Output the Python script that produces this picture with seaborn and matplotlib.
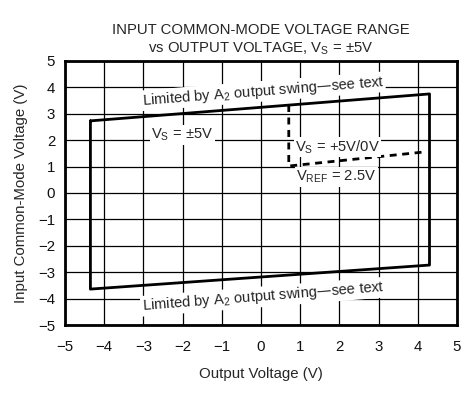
import numpy as np
import matplotlib.pyplot as plt
import pandas as pd
import seaborn as sns

# solid region, V_S = +/-5V
box_x = [-4.35, 4.3, 4.3, -4.35, -4.35]
box_y = [2.73, 3.75, -2.73, -3.64, 2.73]

# dashed region, V_S = +5V/0V
dash_x = [0.71, 0.71, 4.15]
dash_y = [3.33, 1.02, 1.55]

ticks = np.arange(-5, 6, 1)

def main():
    sns.set_theme(style='white')
    plt.rcParams['font.family'] = ['Liberation Sans', 'DejaVu Sans']

    fig = plt.figure(figsize=(4.74, 3.93), dpi=100)
    ax = fig.add_axes([0.137, 0.173, 0.827, 0.672])

    solid = pd.DataFrame({'x': box_x, 'y': box_y})
    dashed = pd.DataFrame({'x': dash_x, 'y': dash_y})
    sns.lineplot(data=solid, x='x', y='y', sort=False, estimator=None,
                 color='black', lw=2, ax=ax, zorder=3)
    sns.lineplot(data=dashed, x='x', y='y', sort=False, estimator=None,
                 color='black', lw=2, ls=(0, (2.5, 2)), ax=ax, zorder=3)

    ax.set_xlim(-5, 5)
    ax.set_ylim(-5, 5)
    ax.set_xticks(ticks)
    ax.set_yticks(ticks)
    fmt = lambda v: f'{v}'.replace('-', '\u2212')
    ax.set_xticklabels([fmt(t) for t in ticks], fontsize=10.8, color='#111111')
    ax.set_yticklabels([fmt(t) for t in ticks], fontsize=10.8, color='#111111')
    ax.tick_params(axis='x', length=0, pad=11)
    ax.tick_params(axis='y', length=0, pad=7)
    ax.grid(True, color='black', lw=0.9)
    for s in ax.spines.values():
        s.set_color('black')
        s.set_linewidth(2)
        s.set_visible(True)

    ax.set_xlabel('Output Voltage (V)', fontsize=10.8, labelpad=9)
    ax.set_ylabel('Input Common-Mode Voltage (V)', fontsize=10.8, labelpad=7)
    ax.set_title('INPUT COMMON-MODE VOLTAGE RANGE\nvs OUTPUT VOLTAGE, V$_\\mathregular{S}$ = \u00b15V',
                 fontsize=10.7, pad=6, linespacing=1.3)

    bb = dict(facecolor='white', edgecolor='none', pad=1)
    ax.text(0.05, 3.85, 'Limited by A$_\\mathregular{2}$ output swing\u2014see text', fontsize=10.6,
            rotation=4.5, ha='center', va='center', bbox=bb, zorder=4)
    ax.text(0.05, -3.93, 'Limited by A$_\\mathregular{2}$ output swing\u2014see text', fontsize=10.6,
            rotation=4.5, ha='center', va='center', bbox=bb, zorder=4)
    ax.text(-2.0, 2.2, 'V$_\\mathregular{S}$ = \u00b15V', fontsize=10.6,
            ha='center', va='center', bbox=bb, zorder=4)
    ax.text(0.87, 1.75, 'V$_\\mathregular{S}$ = +5V/0V', fontsize=10.6,
            ha='left', va='center', bbox=bb, zorder=4)
    ax.text(0.9, 0.6, 'V$_\\mathregular{REF}$ = 2.5V', fontsize=10.6,
            ha='left', va='center', bbox=bb, zorder=4)

    fig.savefig('out.png', dpi=100)

main()
